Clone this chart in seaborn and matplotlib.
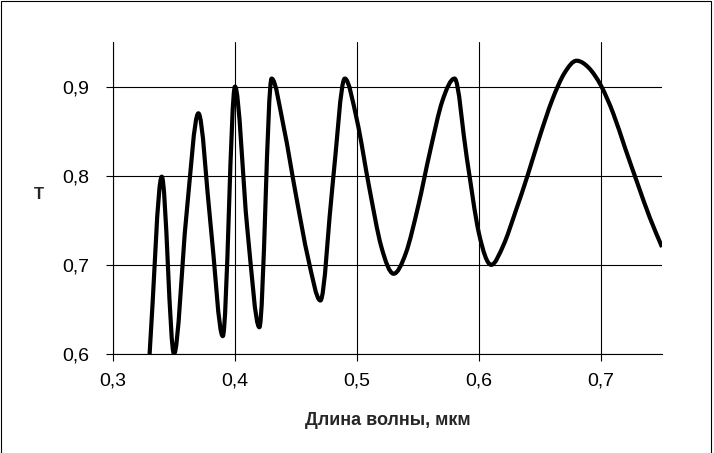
import matplotlib
matplotlib.use('Agg')
import matplotlib.pyplot as plt
import numpy as np
import pandas as pd
import seaborn as sns
from matplotlib.path import Path
from matplotlib.patches import PathPatch, Rectangle

# values
wavelength = [0.33, 0.34, 0.35, 0.36, 0.37, 0.38, 0.39, 0.40, 0.41, 0.42,
              0.43, 0.44, 0.45, 0.46, 0.47, 0.48, 0.49, 0.50, 0.51, 0.52,
              0.53, 0.54, 0.55, 0.56, 0.57, 0.58, 0.59, 0.60, 0.61, 0.62,
              0.63, 0.64, 0.65, 0.66, 0.67, 0.68, 0.69, 0.70, 0.71, 0.72,
              0.73, 0.74, 0.75]
transmission = [0.600, 0.799, 0.600, 0.753, 0.870, 0.745, 0.620, 0.900, 0.742, 0.630,
                0.909, 0.854, 0.778, 0.707, 0.660, 0.790, 0.909, 0.862, 0.787, 0.720,
                0.690, 0.713, 0.765, 0.828, 0.884, 0.909, 0.820, 0.735, 0.700, 0.722,
                0.760, 0.801, 0.845, 0.885, 0.915, 0.929, 0.921, 0.901, 0.870, 0.830,
                0.791, 0.753, 0.720]

x_ticks = [0.3, 0.4, 0.5, 0.6, 0.7]
x_tick_labels = ['0,3', '0,4', '0,5', '0,6', '0,7']
y_ticks = [0.6, 0.7, 0.8, 0.9]
y_tick_labels = ['0,6', '0,7', '0,8', '0,9']

df = pd.DataFrame({'wl': wavelength, 'T': transmission})

sns.set_style('ticks')
plt.rcParams['font.family'] = ['Liberation Sans', 'DejaVu Sans']


def smooth_path(x, y):
    # smoothed line like a spreadsheet chart: central-difference tangents,
    # flat at the local extrema, limited so a segment does not overshoot
    x = np.asarray(x, float)
    y = np.asarray(y, float)
    h = np.diff(x)
    d = np.diff(y) / h
    m = np.zeros_like(y)
    m[0], m[-1] = d[0], d[-1]
    for k in range(1, len(y) - 1):
        if d[k - 1] * d[k] > 0:
            m[k] = (y[k + 1] - y[k - 1]) / (x[k + 1] - x[k - 1])
    for k in range(len(d)):
        if d[k] == 0:
            continue
        a, b = m[k] / d[k], m[k + 1] / d[k]
        s = a * a + b * b
        if s > 9:
            t = 3 / np.sqrt(s)
            m[k], m[k + 1] = t * a * d[k], t * b * d[k]
    verts = [(x[0], y[0])]
    codes = [Path.MOVETO]
    for k in range(len(x) - 1):
        verts += [(x[k] + h[k] / 3, y[k] + m[k] * h[k] / 3),
                  (x[k + 1] - h[k] / 3, y[k + 1] - m[k + 1] * h[k] / 3),
                  (x[k + 1], y[k + 1])]
        codes += [Path.CURVE4] * 3
    return Path(verts, codes)


fig = plt.figure(figsize=(7.14, 4.53), dpi=100)
ax = fig.add_axes([113 / 714, 99 / 453, 549 / 714, 312 / 453])

ax.add_patch(PathPatch(smooth_path(df['wl'], df['T']), facecolor='none',
                       edgecolor='black', lw=3, joinstyle='round', zorder=3))

ax.set_xlim(0.3, 0.75)
ax.set_ylim(0.6, 0.95)
ax.set_xticks(x_ticks)
ax.set_xticklabels(x_tick_labels)
ax.set_yticks(y_ticks)
ax.set_yticklabels(y_tick_labels)
ax.grid(True, color='black', linewidth=0.8)
ax.tick_params(direction='out', length=5, width=0.8, color='black',
               labelsize=14, labelcolor='black')
ax.tick_params(axis='y', pad=12)
ax.tick_params(axis='x', pad=8)

sns.despine(ax=ax)
for s in ['left', 'bottom']:
    ax.spines[s].set_color('black')
    ax.spines[s].set_linewidth(0.8)

ax.set_xlabel('Длина волны, мкм', fontsize=13, fontweight='bold', va='top')
ax.xaxis.set_label_coords(0.5, -0.185)
ax.set_ylabel('T', rotation=0, fontsize=12, fontweight='bold', ha='center', va='center')
ax.yaxis.set_label_coords(-0.135, 0.51)

fig.add_artist(Rectangle((0.5 / 714, -0.01), 710 / 714, 452.5 / 453 + 0.01,
                         transform=fig.transFigure, fill=False,
                         edgecolor='black', lw=0.8))

fig.savefig('out.png', dpi=100)
